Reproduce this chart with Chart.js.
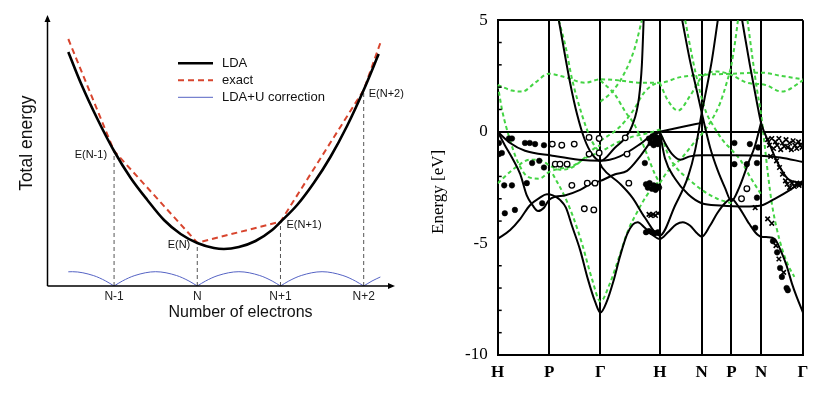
<!DOCTYPE html>
<html><head><meta charset="utf-8">
<script src="https://cdn.jsdelivr.net/npm/chart.js@4.4.1/dist/chart.umd.min.js"></script>
<style>
html,body{margin:0;padding:0;background:#fff;}
#wrap{position:relative;width:821px;height:397px;overflow:hidden;background:#fff;}
#c1{position:absolute;left:0;top:0;}
#c2{position:absolute;left:420px;top:0;}
</style></head><body>
<div id="wrap">
<canvas id="c1" width="440" height="397"></canvas>
<canvas id="c2" width="401" height="397"></canvas>
</div>
<script>
// ---------------- LEFT PANEL DATA ----------------
const nTicks = [-1, 0, 1, 2];
const nTickLabels = ['N-1', 'N', 'N+1', 'N+2'];
const eLabels = ['E(N-1)', 'E(N)', 'E(N+1)', 'E(N+2)'];
const eExactAtN = [13.5, 4.33, 6.43, 19.6];
const ldaX = [-1.55, -1.4, -1.2, -1.0, -0.8, -0.6, -0.4, -0.2, 0, 0.2, 0.32, 0.5, 0.7, 0.9, 1.0, 1.2, 1.4, 1.6, 1.8, 2.0, 2.18];
const ldaE = [23.4, 20.3, 16.7, 13.5, 10.8, 8.6, 6.6, 5.2, 4.3, 3.8, 3.7, 3.9, 4.5, 5.6, 6.4, 8.1, 10.3, 12.9, 16.0, 19.6, 23.2];
const exactX = [-1.55, -1, 0, 1, 2, 2.2];
const exactE = [24.7, 13.5, 4.33, 6.43, 19.6, 24.3];
const corrX = [-1.55, -1.5, -1.25, -1.1, -1.0, -0.9, -0.75, -0.5, -0.25, -0.1, 0, 0.1, 0.25, 0.5, 0.75, 0.9, 1.0, 1.1, 1.25, 1.5, 1.75, 1.9, 2.0, 2.1, 2.2];
const corrE = [1.42, 1.43, 1.05, 0.5, 0, 0.5, 1.05, 1.43, 1.05, 0.5, 0, 0.5, 1.05, 1.43, 1.05, 0.5, 0, 0.5, 1.05, 1.43, 1.05, 0.5, 0, 0.5, 0.9];
const leftXMin = -1.8, leftXMax = 2.839, leftYMax = 27.1, xAxisEnd = 2.376;

// ---------------- RIGHT PANEL DATA ----------------
const kPos = [0, 0.866, 1.732, 2.732, 3.439, 3.939, 4.439, 5.146];
const kLabels = ['H', 'P', 'Γ', 'H', 'N', 'P', 'N', 'Γ'];
const energyTicks = [-10, -5, 0, 5];

const bandB1 = [[0,-4.8],[0.21,-4.4],[0.38,-3.9],[0.54,-3.3],[0.71,-2.95],[0.83,-2.8],[0.93,-2.85],[1.05,-3.05],[1.15,-3.4],[1.25,-4.2],[1.39,-5.3],[1.52,-6.6],[1.64,-7.6],[1.732,-8.1],[1.84,-7.6],[1.95,-6.7],[2.06,-5.6],[2.18,-4.6],[2.28,-4.15],[2.36,-4.05],[2.48,-4.3],[2.60,-4.6],[2.732,-4.8],[2.87,-4.5],[3.01,-4.15],[3.12,-4.05],[3.24,-4.2],[3.36,-4.55],[3.439,-4.7],[3.58,-4.2],[3.70,-3.65],[3.83,-3.2],[3.939,-3.0],[4.07,-3.4],[4.21,-4.0],[4.34,-4.5],[4.439,-4.7],[4.56,-4.72],[4.67,-4.8],[4.79,-5.45],[4.87,-6.0],[4.96,-6.8],[5.04,-7.4],[5.146,-8.1]];
const bandB2 = [[0,0],[0.12,-0.6],[0.24,-1.15],[0.38,-1.9],[0.49,-2.85],[0.59,-3.3],[0.68,-3.55],[0.78,-3.4],[0.866,-3.05],[0.98,-2.9],[1.13,-2.85],[1.39,-2.6],[1.59,-2.3],[1.732,-2.2],[1.98,-1.9],[2.18,-1.75],[2.40,-1.1],[2.51,-0.7],[2.65,-0.15],[2.732,0]];
const bandK1 = [[1.03,5],[1.22,2.2],[1.34,0.76],[1.46,-0.3],[1.59,-1.0],[1.732,-1.3],[1.98,-0.7],[2.15,-0.27],[2.27,0.3],[2.38,1.5],[2.43,3.0],[2.46,5]];
const bandK2 = [[0,0],[0.21,-0.5],[0.46,-0.85],[0.92,-1.07],[1.37,-1.25],[1.732,-1.3],[2.06,-1.1],[2.40,-0.55],[2.62,-0.1],[2.732,0]];
const bandK4 = [[1.732,-1.45],[1.76,-1.6],[2.05,-2.3],[2.27,-2.95],[2.48,-3.84],[2.732,-4.65],[2.99,-3.3],[3.21,-2.0],[3.33,-0.8],[3.439,0.85],[3.51,1.8],[3.61,3.2],[3.71,5]];
const bandD1 = [[3.11,5],[3.24,3.2],[3.36,1.8],[3.439,0.85],[3.58,-0.7],[3.71,-1.74],[3.83,-2.5],[3.939,-3.1],[4.07,-2.5],[4.21,-1.5],[4.34,-0.6],[4.439,0.4]];
const bandD4 = [[4.12,5],[4.25,3.0],[4.37,1.3],[4.439,0.4],[4.59,-0.6],[4.72,-1.4],[4.89,-2.1],[5.146,-2.3]];
const bandC1 = [[2.732,0],[3.08,0.2],[3.439,0.4]];
const bandD2 = [[2.732,0],[2.82,-1.2],[2.99,-2.1],[3.21,-2.8],[3.439,-3.2],[3.75,-3.3],[4.16,-3.35],[4.439,-3.3],[4.67,-3.0],[4.93,-2.6],[5.146,-2.2]];
const bandD3 = [[2.732,0],[2.82,-0.5],[2.94,-1.0],[3.08,-1.25],[3.24,-1.1],[3.439,-1.05],[3.91,-1.05],[4.439,-1.07],[4.76,-1.15],[5.146,-1.35]];
const ldaBands = [bandB1, bandB2, bandK1, bandK2, bandK4, bandD1, bandD4, bandC1, bandD2, bandD3];

const green1 = [[0,2.1],[0.24,1.85],[0.41,1.8],[0.63,2.2],[0.86,2.6],[1.13,2.45],[1.47,2.2],[1.732,2.35],[2.06,2.3],[2.40,2.2],[2.732,2.2],[3.08,2.45],[3.439,2.55],[3.939,2.6],[4.439,2.65],[4.79,2.5],[5.146,2.35]];
const green2 = [[2.732,2.2],[2.87,1.4],[3.04,0.95],[3.24,1.6],[3.439,2.45],[3.70,2.7],[3.939,2.55],[4.2,2.2],[4.51,2.1],[4.79,1.8],[5.146,2.3]];
const green3 = [[0,2.1],[0.08,0.9],[0.2,-0.3],[0.33,-1.3],[0.5,-2.0],[0.7,-2.1],[0.866,-1.8],[1.05,-1.65],[1.25,-1.55],[1.5,-1.15],[1.732,-0.9],[2.0,-0.5],[2.3,-0.2],[2.55,-0.05],[2.732,0.1]];
const green4 = [[0,-2.3],[0.3,-1.6],[0.55,-1.25],[0.75,-1.3],[0.866,-1.5],[1.05,-1.7],[1.25,-1.6],[1.45,-1.2],[1.6,-0.8],[1.732,-0.6]];
const green5 = [[1.03,5],[1.15,3.75],[1.25,2.4],[1.42,0.76],[1.55,-0.2],[1.65,-0.7],[1.732,-0.9]];
const green6 = [[1.732,1.35],[1.93,1.8],[2.15,2.7],[2.31,3.75],[2.43,5]];
const green7 = [[1.732,2.3],[1.98,1.65],[2.15,0.9],[2.31,0.3],[2.5,-0.9],[2.65,-1.9],[2.732,-2.3]];
const green8 = [[1.732,-0.4],[2.05,0.2],[2.27,0.9],[2.48,1.8],[2.65,2.15],[2.732,2.2]];
const green9 = [[0.93,-1.9],[1.13,-2.9],[1.27,-3.8],[1.42,-5.0],[1.59,-6.6],[1.732,-7.6],[1.89,-6.8],[2.06,-5.5],[2.2,-4.4],[2.35,-3.6],[2.5,-2.9],[2.65,-2.4],[2.732,-2.2]];
const green10 = [[2.732,-2.3],[2.87,-1.75],[3.11,-1.15],[3.29,-0.55],[3.439,-0.1],[3.6,0.5],[3.75,1.3],[3.86,2.2],[3.939,3.0],[4.0,4.0],[4.05,5]];
const green11 = [[2.732,0.1],[2.87,-1.0],[3.04,-1.7],[3.21,-2.1],[3.439,-2.6],[3.7,-3.0],[3.939,-3.2]];
const green12 = [[3.16,5],[3.29,3.2],[3.41,1.8],[3.51,0.9],[3.65,0.2],[3.8,-0.4],[3.939,-0.8],[4.1,-1.3],[4.25,-2.0],[4.439,-2.8]];
const green13 = [[4.21,5],[4.30,3.2],[4.37,1.9],[4.439,0.8],[4.5,-0.6],[4.56,-2.0],[4.62,-3.2],[4.7,-4.3],[4.8,-5.3],[4.9,-6.0],[5.0,-6.5]];
const expBands = [green1, green2, green3, green4, green5, green6, green7, green8, green9, green10, green11, green12, green13];

const expFilled = [[0.02,-0.5],[0.02,-1.0],[0.19,-0.3],[0.24,-0.3],[0.46,-0.5],[0.54,-0.5],[0.63,-0.55],[0.78,-0.6],[0.07,-0.95],[0.58,-1.4],[0.70,-1.3],[0.78,-1.6],[0.11,-2.4],[0.24,-2.4],[0.49,-2.3],[0.12,-3.65],[0.29,-3.5],[0.75,-3.2],
  [2.55,-0.3],[2.58,-0.5],[2.61,-0.2],[2.63,-0.6],[2.65,-0.4],[2.68,-0.25],[2.70,-0.55],[2.72,-0.35],[2.48,-1.4],
  [2.50,-2.35],[2.53,-2.5],[2.56,-2.3],[2.60,-2.55],[2.63,-2.4],[2.66,-2.6],[2.69,-2.45],[2.72,-2.5],
  [2.50,-4.5],[2.55,-4.45],[2.60,-4.5],[2.65,-4.55],[2.70,-4.5],
  [3.99,-0.5],[4.25,-0.55],[4.39,-0.7],[3.99,-1.45],[4.20,-1.45],[4.37,-1.4],[4.37,-2.95],[4.34,-4.3],[4.64,-4.9],[4.71,-5.4],[4.76,-6.1],[4.79,-6.5],[4.87,-7.0],[4.89,-7.1]];
const expOpen = [[0.92,-0.55],[1.08,-0.6],[1.29,-0.55],[1.54,-0.25],[1.71,-0.3],[1.54,-1.0],[1.71,-0.95],[0.97,-1.45],[1.05,-1.45],[1.17,-1.45],[1.25,-2.4],[1.51,-2.3],[1.64,-2.3],[1.46,-3.45],[1.62,-3.5],[2.21,-2.3],[2.18,-1.0],[2.15,-0.27],[4.11,-3.0],[4.20,-2.55]];
const expCross = [[2.55,-3.7],[2.58,-3.75],[2.62,-3.7],[2.66,-3.75],[2.70,-3.65],[4.34,-3.4],[4.55,-3.9],[4.62,-4.1],[4.69,-5.1],[4.74,-5.7],[4.82,-6.3],
  [4.55,-0.35],[4.58,-0.6],[4.62,-0.3],[4.65,-0.75],[4.68,-0.45],[4.71,-0.6],[4.74,-0.3],[4.77,-0.8],[4.80,-0.5],[4.83,-0.65],[4.86,-0.35],[4.89,-0.7],[4.92,-0.5],[4.95,-0.8],[4.98,-0.4],[5.01,-0.6],[5.04,-0.75],[5.07,-0.45],[5.10,-0.6],[5.13,-0.7],
  [4.60,-1.1],[4.70,-1.3],[4.75,-1.6],[4.80,-1.9],[4.85,-2.2],[4.88,-2.35],[4.92,-2.5],[4.96,-2.3],[5.00,-2.45],[5.04,-2.3],[5.08,-2.4],[5.12,-2.35]];

// ---------------- LEFT CHART ----------------
const SANS = "'Liberation Sans', Arial, Helvetica, sans-serif";
const SERIF = "'Liberation Serif', 'Times New Roman', serif";
const NB = '\u00a0';
const toXY = (xs, ys) => xs.map((x, i) => ({x, y: ys[i]}));

function corrSegments() {
  const segs = []; let cur = [];
  corrX.forEach((x, i) => {
    cur.push({x, y: corrE[i]});
    if (corrE[i] === 0 && cur.length > 1) { segs.push(cur); cur = [{x, y: 0}]; }
  });
  if (cur.length > 1) segs.push(cur);
  return segs;
}

const leftDatasets = [
  {label: 'LDA', data: toXY(ldaX, ldaE), borderColor: '#000', borderWidth: 2.6, cubicInterpolationMode: 'monotone', legendItem: true},
  {label: 'exact', data: toXY(exactX, exactE), borderColor: '#d8452e', borderWidth: 2, borderDash: [6, 4], tension: 0, legendItem: true},
];
corrSegments().forEach((seg, i) => leftDatasets.push({label: 'LDA+U correction', data: seg, borderColor: '#5563c4', borderWidth: 1, cubicInterpolationMode: 'monotone', legendItem: i === 0}));
nTicks.forEach((n, i) => leftDatasets.push({label: 'guide', data: [{x: n, y: 0}, {x: n, y: eExactAtN[i]}], borderColor: '#555', borderWidth: 1, borderDash: [4, 3]}));
leftDatasets.forEach(d => { d.showLine = true; d.pointRadius = 0; d.fill = false; });

const leftDecor = {
  id: 'leftDecor',
  afterDatasetsDraw(chart) {
    const {ctx, scales: {x, y}} = chart;
    const x0 = x.getPixelForValue(leftXMin), y0 = y.getPixelForValue(0);
    const yTop = y.getPixelForValue(leftYMax), xEnd = x.getPixelForValue(xAxisEnd);
    ctx.save();
    ctx.strokeStyle = '#000'; ctx.fillStyle = '#000'; ctx.lineWidth = 1.5;
    ctx.beginPath(); ctx.moveTo(x0, y0); ctx.lineTo(x0, yTop + 5); ctx.moveTo(x0, y0); ctx.lineTo(xEnd - 5, y0); ctx.stroke();
    ctx.beginPath(); ctx.moveTo(x0, yTop); ctx.lineTo(x0 - 3, yTop + 7); ctx.lineTo(x0 + 3, yTop + 7); ctx.closePath(); ctx.fill();
    ctx.beginPath(); ctx.moveTo(xEnd, y0); ctx.lineTo(xEnd - 7, y0 - 3); ctx.lineTo(xEnd - 7, y0 + 3); ctx.closePath(); ctx.fill();
    // point labels
    ctx.font = '11px ' + SANS; ctx.fillStyle = '#111'; ctx.textBaseline = 'middle';
    const offs = [[-7, 4, 'right'], [-7, 2, 'right'], [6, 3, 'left'], [5, 4, 'left']];
    eLabels.forEach((t, i) => {
      ctx.textAlign = offs[i][2];
      ctx.fillText(t, x.getPixelForValue(nTicks[i]) + offs[i][0], y.getPixelForValue(eExactAtN[i]) + offs[i][1]);
    });
    // legend
    const items = chart.data.datasets.filter(d => d.legendItem);
    const lx = chart.chartArea.left + 130.5, ly = chart.chartArea.top + 48.3, step = 17;
    ctx.font = '13px ' + SANS; ctx.textAlign = 'left'; ctx.fillStyle = '#111';
    items.forEach((d, i) => {
      const yy = ly + i * step;
      ctx.strokeStyle = d.borderColor; ctx.lineWidth = d.borderWidth; ctx.setLineDash(d.borderDash || []);
      ctx.beginPath(); ctx.moveTo(lx, yy); ctx.lineTo(lx + 35, yy); ctx.stroke();
      ctx.setLineDash([]);
      ctx.fillText(d.label, lx + 44, yy);
    });
    ctx.restore();
  }
};

new Chart(document.getElementById('c1'), {
  type: 'scatter',
  data: {datasets: leftDatasets},
  options: {
    responsive: false, animation: false, events: [],
    layout: {padding: {top: 15, right: 6.5, left: 0, bottom: 0}},
    plugins: {legend: {display: false}, tooltip: {enabled: false}},
    scales: {
      x: {type: 'linear', min: leftXMin, max: leftXMax,
        afterBuildTicks: s => { s.ticks = nTicks.map(v => ({value: v})); },
        afterFit: s => { s.height = 111; },
        grid: {display: false, drawTicks: false}, border: {display: false},
        ticks: {padding: 3, color: '#222', font: {family: SANS, size: 12}, callback: (v) => nTickLabels[nTicks.indexOf(v)]},
        title: {display: true, text: 'Number of electrons', color: '#111', font: {family: SANS, size: 16}, padding: {top: 0, bottom: 74.4}}
      },
      y: {type: 'linear', min: 0, max: leftYMax,
        afterFit: s => { s.width = 47.5; },
        grid: {display: false, drawTicks: false}, border: {display: false},
        ticks: {display: false},
        title: {display: true, text: NB + NB + NB + 'Total energy', color: '#111', font: {family: SANS, size: 17.5}, padding: {top: 17, bottom: 0}}
      }
    }
  },
  plugins: [leftDecor]
});

// ---------------- RIGHT CHART ----------------
const rightDatasets = [];
rightDatasets.push({label: 'exp filled', data: expFilled.map(([x, y]) => ({x, y})), pointStyle: 'circle', pointRadius: 2.8, pointBackgroundColor: '#000', pointBorderColor: '#000', pointBorderWidth: 0.5, showLine: false});
rightDatasets.push({label: 'exp open', data: expOpen.map(([x, y]) => ({x, y})), pointStyle: 'circle', pointRadius: 2.8, pointBackgroundColor: '#fff', pointBorderColor: '#000', pointBorderWidth: 1.3, showLine: false});
rightDatasets.push({label: 'exp cross', data: expCross.map(([x, y]) => ({x, y})), pointStyle: 'crossRot', pointRadius: 3.2, pointBorderColor: '#000', pointBorderWidth: 1.6, showLine: false});
ldaBands.forEach((b, i) => rightDatasets.push({label: 'band ' + i, data: b.map(([x, y]) => ({x, y})), borderColor: '#000', borderWidth: 2, showLine: true, pointRadius: 0, cubicInterpolationMode: 'monotone'}));
expBands.forEach((b, i) => rightDatasets.push({label: 'green ' + i, data: b.map(([x, y]) => ({x, y})), borderColor: '#44d444', borderWidth: 2, borderDash: [4, 3], showLine: true, pointRadius: 0, cubicInterpolationMode: 'monotone'}));

const minorTicks = {
  id: 'minorTicks',
  afterDraw(chart) {
    const {ctx, chartArea, scales: {y}} = chart;
    ctx.save(); ctx.strokeStyle = '#000'; ctx.lineWidth = 1.5;
    for (let v = -9; v <= 4; v++) {
      if (v % 5 === 0) continue;
      const py = y.getPixelForValue(v);
      ctx.beginPath(); ctx.moveTo(chartArea.left, py); ctx.lineTo(chartArea.left + 4, py); ctx.stroke();
    }
    ctx.restore();
  }
};

new Chart(document.getElementById('c2'), {
  type: 'scatter',
  data: {datasets: rightDatasets},
  options: {
    responsive: false, animation: false, events: [],
    layout: {padding: {top: 19, right: 18, left: 0, bottom: 0}},
    plugins: {legend: {display: false}, tooltip: {enabled: false}},
    scales: {
      x: {type: 'linear', min: 0, max: kPos[kPos.length - 1],
        afterBuildTicks: s => { s.ticks = kPos.map(v => ({value: v})); },
        afterFit: s => { s.height = 42; },
        grid: {color: '#000', lineWidth: 2, drawTicks: false},
        border: {display: true, color: '#000', width: 2},
        ticks: {padding: 7, color: '#000', autoSkip: false, maxRotation: 0, font: {family: SERIF, size: 17, weight: 'bold'}, callback: (v, i) => kLabels[i]}
      },
      y: {type: 'linear', min: -10, max: 5,
        afterBuildTicks: s => { s.ticks = energyTicks.map(v => ({value: v})); },
        afterFit: s => { s.width = 77.7; },
        grid: {color: c => (c.tick && (c.tick.value === 0 || c.tick.value === 5)) ? '#000' : 'rgba(0,0,0,0)', lineWidth: 2, drawTicks: false},
        border: {display: true, color: '#000', width: 2},
        ticks: {padding: 10, color: '#000', font: {family: SERIF, size: 17}, callback: v => String(v)},
        title: {display: true, text: 'Energy [eV]' + NB + NB, color: '#000', font: {family: SERIF, size: 17}, padding: {top: 8.8, bottom: 0}}
      }
    }
  },
  plugins: [minorTicks]
});
</script>
</body></html>
